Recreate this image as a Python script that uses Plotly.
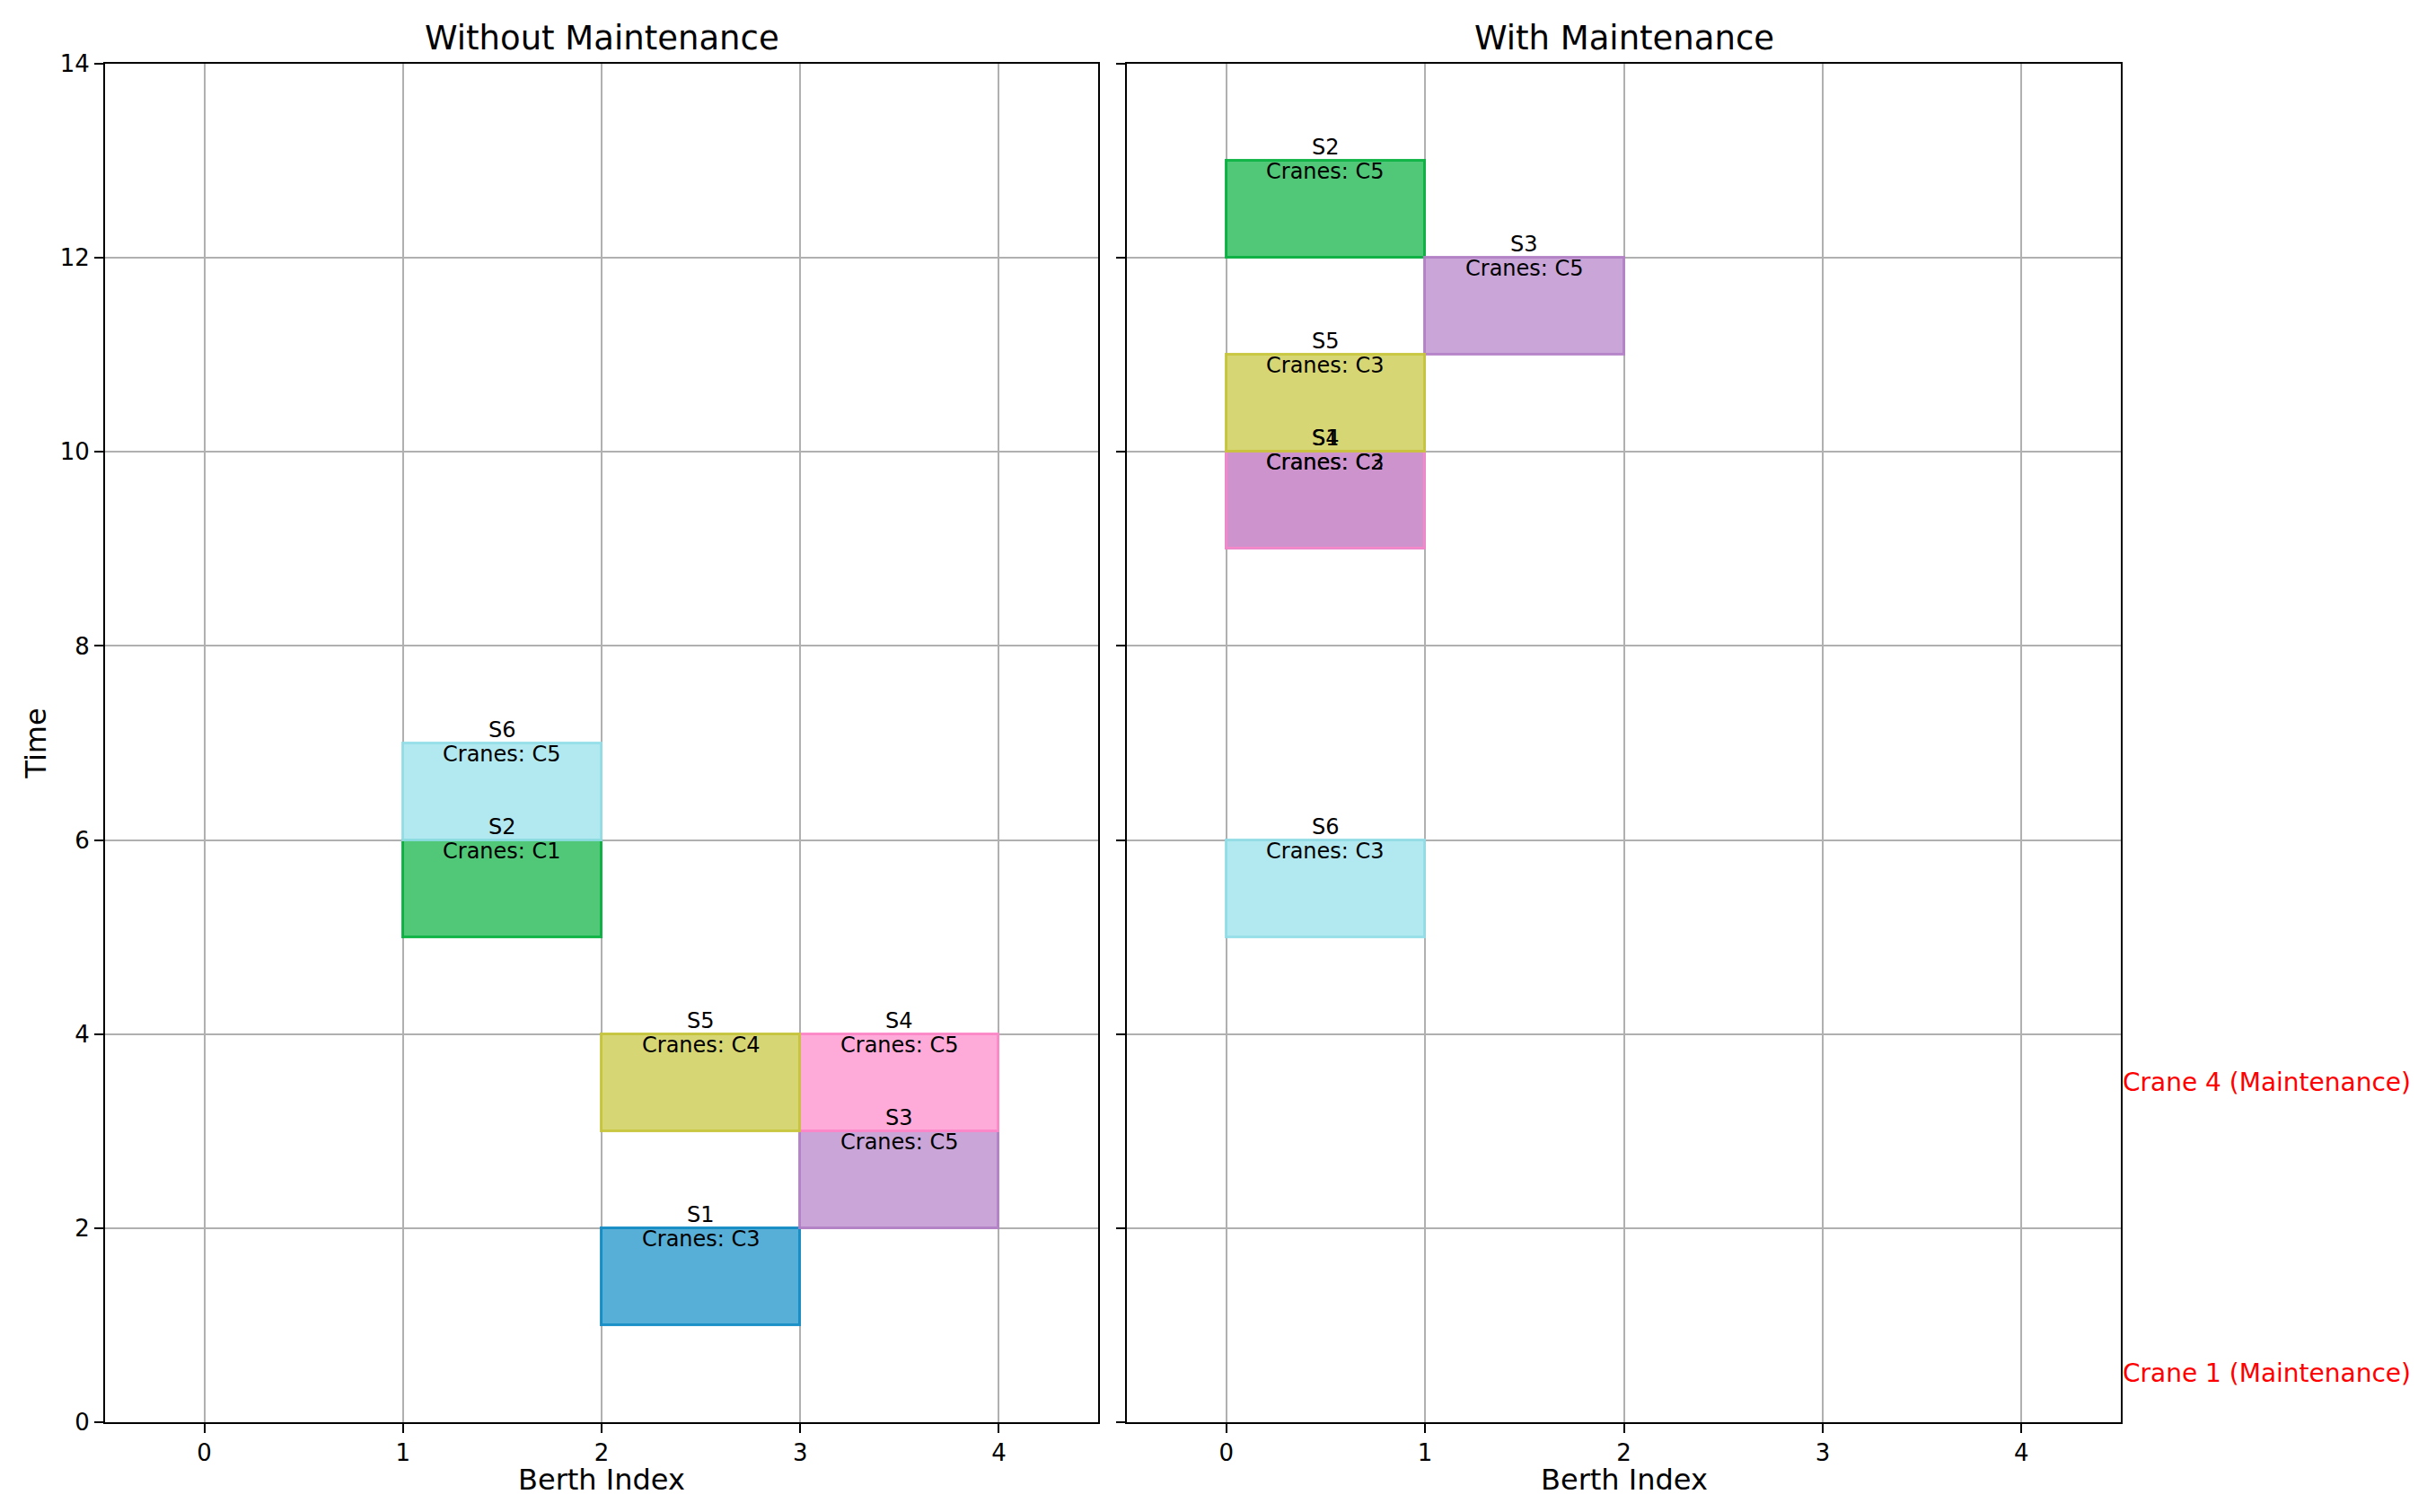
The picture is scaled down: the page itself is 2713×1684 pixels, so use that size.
import plotly.graph_objects as go

# ---------------- data ----------------
ships = ["S1", "S2", "S3", "S4", "S5", "S6"]

# Without maintenance
nm_berth = [2, 1, 3, 3, 2, 1]
nm_start = [1, 5, 2, 3, 3, 6]
nm_end = [2, 6, 3, 4, 4, 7]
nm_cranes = ["C3", "C1", "C5", "C5", "C4", "C5"]

# With maintenance
wm_berth = [0, 0, 1, 0, 0, 0]
wm_start = [9, 12, 11, 9, 10, 5]
wm_end = [10, 13, 12, 10, 11, 6]
wm_cranes = ["C2", "C5", "C5", "C3", "C3", "C3"]

maint_labels = ["Crane 4 (Maintenance)", "Crane 1 (Maintenance)"]
maint_times = [3.5, 0.5]

ship_rgb = [(16, 139, 196), (5, 176, 62), (178, 127, 199),
            (255, 135, 201), (198, 197, 58), (146, 222, 232)]

x_ticks = [0, 1, 2, 3, 4]
y_ticks = [0, 2, 4, 6, 8, 10, 12, 14]

W, H = 2713, 1684
FONT = "DejaVu Sans"

# plot-area pixel geometry
L, R, T, B = 109, 2354, 63, 1576
LEFT_END, RIGHT_START = 1215, 1247
PW = R - L

fill = [f"rgba({r},{g},{b},0.7)" for r, g, b in ship_rgb]
edge = [f"rgba({r},{g},{b},0.9)" for r, g, b in ship_rgb]

fig = go.Figure()

panels = [
    ("x", "y", nm_berth, nm_start, nm_end, nm_cranes),
    ("x2", "y2", wm_berth, wm_start, wm_end, wm_cranes),
]

annotations = []
for xa, ya, berth, start, end, cranes in panels:
    fig.add_trace(go.Bar(
        x=[b + 0.5 for b in berth],
        y=[e - s for s, e in zip(start, end)],
        base=start,
        width=[1] * len(berth),
        marker=dict(color=fill, line=dict(color=edge, width=3)),
        xaxis=xa, yaxis=ya, showlegend=False, hoverinfo="skip",
    ))
    for ship, b, e, c in zip(ships, berth, end, cranes):
        annotations.append(dict(
            x=b + 0.5, y=e, xref=xa, yref=ya, text=ship, showarrow=False,
            xanchor="center", yanchor="middle", yshift=15,
            font=dict(family=FONT, size=24, color="black")))
        annotations.append(dict(
            x=b + 0.5, y=e, xref=xa, yref=ya, text=f"Cranes: {c}",
            showarrow=False, xanchor="center", yanchor="middle", yshift=-12,
            font=dict(family=FONT, size=24, color="black")))

for lab, t in zip(maint_labels, maint_times):
    annotations.append(dict(
        x=4.5, y=t, xref="x2", yref="y2", text=lab, showarrow=False,
        xanchor="left", yanchor="middle",
        font=dict(family=FONT, size=28, color="red")))

left_dom = [0, (LEFT_END - L) / PW]
right_dom = [(RIGHT_START - L) / PW, 1]

title_font = dict(family=FONT, size=32, color="black")
for dom, title in [(left_dom, "Without Maintenance"), (right_dom, "With Maintenance")]:
    annotations.append(dict(
        x=(dom[0] + dom[1]) / 2, y=1, xref="paper", yref="paper",
        text=title, showarrow=False, xanchor="center", yanchor="middle",
        yshift=29,
        font=dict(family=FONT, size=37, color="black")))
    annotations.append(dict(
        x=(dom[0] + dom[1]) / 2, y=0, xref="paper", yref="paper",
        text="Berth Index", showarrow=False, xanchor="center",
        yanchor="middle", yshift=-64, font=title_font))

axis_common = dict(
    showline=True, linecolor="black", linewidth=2, mirror=True,
    ticks="outside", ticklen=10, tickwidth=2, tickcolor="black",
    showgrid=True, gridcolor="#b0b0b0", gridwidth=1.5, zeroline=False,
    automargin=False,
    tickfont=dict(family=FONT, size=26, color="black"),
)

fig.update_layout(
    width=W, height=H,
    margin=dict(l=L, r=W - R, t=T, b=H - B, pad=0),
    paper_bgcolor="white", plot_bgcolor="white",
    barmode="overlay", bargap=0,
    showlegend=False,
    annotations=annotations,
    xaxis=dict(domain=left_dom, range=[-0.5, 4.5], tickvals=x_ticks,
               anchor="y", **axis_common),
    yaxis=dict(domain=[0, 1], range=[0, 14], tickvals=y_ticks,
               title=dict(text="Time", standoff=6, font=title_font),
               anchor="x", **axis_common),
    xaxis2=dict(domain=right_dom, range=[-0.5, 4.5], tickvals=x_ticks,
                anchor="y2", **axis_common),
    yaxis2=dict(domain=[0, 1], range=[0, 14], tickvals=y_ticks,
                showticklabels=False, anchor="x2", matches="y", **axis_common),
)

fig.write_html("out.html")
